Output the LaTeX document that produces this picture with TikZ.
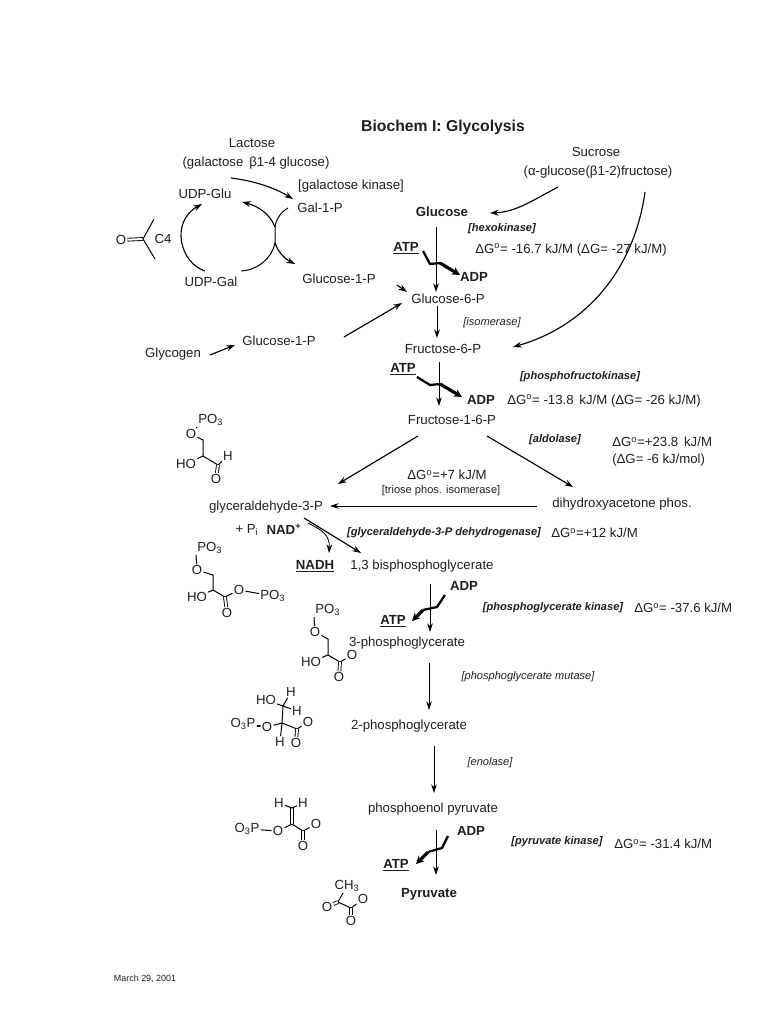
\documentclass[tikz,border=0pt]{standalone}
\usepackage{fontspec}
\setmainfont{Liberation Sans}
\usetikzlibrary{arrows.meta}
\definecolor{ink}{gray}{0.12}
\tikzset{
 txt/.style={inner sep=0pt,text=ink,yshift=-0.75pt,font=\fontsize{9.9}{12}\selectfont},
 bt/.style={txt,font=\fontsize{9.9}{12}\selectfont\bfseries},
 ttl/.style={txt,font=\fontsize{11.8}{14}\selectfont\bfseries},
 eb/.style={txt,font=\fontsize{8.3}{10}\selectfont\bfseries\itshape},
 ei/.style={txt,font=\fontsize{8.3}{10}\selectfont\itshape},
 sm/.style={txt,font=\fontsize{8.3}{10}\selectfont},
 dt/.style={txt,font=\fontsize{6.7}{8}\selectfont},
 atm/.style={inner sep=0.8pt,text=ink,font=\fontsize{9.9}{12}\selectfont},
 arr/.style={draw=black,line width=0.6pt,-{Stealth[length=6.5pt,width=4.2pt]}},
 harr/.style={draw=black,line width=0.85pt,-{Stealth[length=6.5pt,width=4.5pt]}},
 thick1/.style={draw=black,line width=1.7pt,line join=round},
 thick2/.style={draw=black,line width=2.4pt,-{Stealth[length=6pt,width=6pt]}},
 bond/.style={draw=black,line width=0.75pt},
 dbond/.style={draw=black,line width=0.65pt,double,double distance=1.5pt},
}
\begin{document}
\begin{tikzpicture}[x=0.75pt,y=-0.75pt]
\useasboundingbox (0,0) rectangle (768,1024);
% texts
\node[ttl] (title) at (443,126) {Biochem I: Glycolysis};
\node[txt] (lactose) at (252,142) {Lactose};
\node[txt] (galglu) at (256,162) {(galactose \,β1-4 glucose)};
\node[txt] (galk) at (351,185) {[galactose kinase]};
\node[txt] (udpglu) at (205,193) {UDP-Glu};
\node[txt] (gal1p) at (320,207) {Gal-1-P};
\node[txt] (c4) at (163,238) {C4};
\node[txt] (udpgal) at (211,281) {UDP-Gal};
\node[txt] (g1pa) at (339,278) {Glucose-1-P};
\node[txt] (g1pb) at (279,340) {Glucose-1-P};
\node[txt] (glycogen) at (173,353) {Glycogen};
\node[txt] (sucrose) at (596,151) {Sucrose};
\node[txt] (sucdef) at (598,171) {(α-glucose(β1-2)fructose)};
\node[bt] (glucose) at (442,211) {Glucose};
\node[eb] (hexo) at (502,228) {[hexokinase]};
\node[txt,anchor=west] (dg1) at (475,249) {ΔG\textsuperscript{o}= -16.7 kJ/M (ΔG= -27 kJ/M)};
\node[bt] (atp1) at (406,247) {\underline{ATP}};
\node[bt] (adp1) at (474,276) {ADP};
\node[txt] (g6p) at (448,298) {Glucose-6-P};
\node[ei] (isom) at (492,322) {[isomerase]};
\node[txt] (f6p) at (443,348) {Fructose-6-P};
\node[bt] (atp2) at (403,368) {\underline{ATP}};
\node[eb] (pfk) at (580,376) {[phosphofructokinase]};
\node[bt] (adp2) at (481,399) {ADP};
\node[txt,anchor=west] (dg2) at (507,400) {ΔG\textsuperscript{o}= -13.8 \,kJ/M (ΔG= -26 kJ/M)};
\node[txt] (f16p) at (452,419) {Fructose-1-6-P};
\node[eb] (aldo) at (555,439) {[aldolase]};
\node[txt,anchor=west] (dg3) at (612,441) {ΔG\textsuperscript{o}=+23.8 \,kJ/M};
\node[txt,anchor=west] (dg3b) at (612,459) {(ΔG= -6 kJ/mol)};
\node[txt] (dg4) at (447,474) {ΔG\textsuperscript{o}=+7 kJ/M};
\node[sm] (tpi) at (441,490) {[triose phos. isomerase]};
\node[txt] (g3p) at (266,506) {glyceraldehyde-3-P};
\node[txt] (dhap) at (622,503) {dihydroxyacetone phos.};
\node[txt] (pi) at (247,529) {+ P\textsubscript{i}};
\node[bt] (nad) at (284,528) {NAD\textsuperscript{+}};
\node[eb] (gapdh) at (444,532) {[glyceraldehyde-3-P dehydrogenase]};
\node[txt,anchor=west] (dg5) at (551,532) {ΔG\textsuperscript{o}=+12 kJ/M};
\node[bt] (nadh) at (315,565) {\underline{NADH}};
\node[txt] (bpg) at (422,565) {1,3 bisphosphoglycerate};
\node[bt] (adp3) at (464,585) {ADP};
\node[eb] (pgk) at (553,607) {[phosphoglycerate kinase]};
\node[txt,anchor=west] (dg6) at (634,607) {ΔG\textsuperscript{o}= -37.6 kJ/M};
\node[bt] (atp3) at (393,620) {\underline{ATP}};
\node[txt] (pg3) at (407,642) {3-phosphoglycerate};
\node[ei] (mutase) at (528,676) {[phosphoglycerate mutase]};
\node[txt] (pg2) at (409,725) {2-phosphoglycerate};
\node[ei] (enolase) at (490,762) {[enolase]};
\node[txt] (pep) at (433,808) {phosphoenol pyruvate};
\node[bt] (adp4) at (471,830) {ADP};
\node[eb] (pk) at (557,841) {[pyruvate kinase]};
\node[txt,anchor=west] (dg7) at (614,843) {ΔG\textsuperscript{o}= -31.4 kJ/M};
\node[bt] (atp4) at (396,864) {\underline{ATP}};
\node[bt] (pyr) at (429,893) {Pyruvate};
\node[dt] (date) at (145,978) {March 29, 2001};
% free ends of connectors
\coordinate (a1) at (231,178); \coordinate (a2) at (293,199);
\coordinate (b1) at (288,208); \coordinate (b2) at (275,227); \coordinate (b3) at (275,243); \coordinate (b4) at (295,264);
\coordinate (b5) at (242,202); \coordinate (b6) at (241,271);
\coordinate (c1) at (205,271); \coordinate (c2) at (202,204);
\coordinate (d1) at (210,355); \coordinate (d2) at (235,345);
\coordinate (e1) at (344,337); \coordinate (e2) at (402,303);
\coordinate (e3) at (397,285); \coordinate (e4) at (407,292);
\coordinate (s1) at (558,187); \coordinate (s2) at (490,213);
\coordinate (s3) at (645,192); \coordinate (s4) at (513,347);
% connectors
\draw[harr] (a1) .. controls (255,181) and (275,188) .. (a2);
\draw[harr] (b2) .. controls (270,214) and (258,206) .. (b5);
\draw[bond] (b1) .. controls (281,212) and (276,219) .. (b2) -- (b3);
\draw[harr] (b3) .. controls (278,252) and (285,259) .. (b4);
\draw[bond] (b6) .. controls (258,270) and (272,258) .. (b3);
\draw[harr] (c1) .. controls (180,263) and (170,222) .. (c2);
\draw[harr] (d1) -- (d2);
\draw[harr] (e1) -- (e2);
\draw[harr] (e3) -- (e4);
\draw[harr] (s1) .. controls (530,202) and (515,212) .. (s2);
\draw[harr] (s3) .. controls (635,265) and (590,325) .. (s4);
% main pathway
\coordinate (m1a) at (436,227); \coordinate (m1b) at (436,292);
\coordinate (m2a) at (437,306); \coordinate (m2b) at (437,338);
\coordinate (m3a) at (439,362); \coordinate (m3b) at (439,406);
\coordinate (m4a) at (418,436); \coordinate (m4b) at (338,484);
\coordinate (m5a) at (487,436); \coordinate (m5b) at (573,487);
\coordinate (m6a) at (537,506); \coordinate (m6b) at (330,506);
\coordinate (m7a) at (304,518); \coordinate (m7b) at (361,553);
\coordinate (m8a) at (308,523); \coordinate (m8b) at (329,553);
\coordinate (m9a) at (430,584); \coordinate (m9b) at (430,632);
\coordinate (m10a) at (429,663); \coordinate (m10b) at (429,710);
\coordinate (m11a) at (434,746); \coordinate (m11b) at (434,793);
\coordinate (m12a) at (436,830); \coordinate (m12b) at (436,875);
\draw[arr] (m1a) -- (m1b);
\draw[arr] (m2a) -- (m2b);
\draw[arr] (m3a) -- (m3b);
\draw[harr] (m4a) -- (m4b);
\draw[harr] (m5a) -- (m5b);
\draw[arr] (m6a) -- (m6b);
\draw[harr] (m7a) -- (m7b);
\draw[arr] (m8a) .. controls (322,530) and (330,535) .. (m8b);
\draw[arr] (m9a) -- (m9b);
\draw[arr] (m10a) -- (m10b);
\draw[arr] (m11a) -- (m11b);
\draw[arr] (m12a) -- (m12b);
% ATP / ADP coupling
\coordinate (t1a) at (423,251); \coordinate (t1b) at (430,264); \coordinate (t1c) at (440,263); \coordinate (t1d) at (460,275);
\draw[thick1] (t1a) -- (t1b) -- (t1c);
\draw[thick2] (t1c) -- (t1d);
\coordinate (t2a) at (417,377); \coordinate (t2b) at (430,385); \coordinate (t2c) at (440,384); \coordinate (t2d) at (462,397);
\draw[thick1] (t2a) -- (t2b) -- (t2c);
\draw[thick2] (t2c) -- (t2d);
\coordinate (t3a) at (445,595); \coordinate (t3b) at (437,607); \coordinate (t3c) at (423,610); \coordinate (t3d) at (412,621);
\draw[thick1] (t3a) -- (t3b) -- (t3c);
\draw[thick2] (t3c) -- (t3d);
\coordinate (t4a) at (448,836); \coordinate (t4b) at (442,848); \coordinate (t4c) at (428,852); \coordinate (t4d) at (416,864);
\draw[thick1] (t4a) -- (t4b) -- (t4c);
\draw[thick2] (t4c) -- (t4d);
% C4 carbonyl
\node[atm] (co) at (121,240) {O};
\coordinate (cc) at (143,239); \coordinate (cu) at (154,219); \coordinate (cd) at (155,259);
\draw[dbond] (co) -- (cc);
\draw[bond] (cu) -- (cc) -- (cd);
% molecule 1: glyceraldehyde-3-P
\node[atm,anchor=west] (a-p) at (197,420) {PO\textsubscript{3}};
\node[atm] (a-o) at (191,434) {O};
\node[atm] (a-ho) at (186,464) {HO};
\node[atm] (a-h) at (228,456) {H};
\node[atm] (a-od) at (216,479) {O};
\coordinate (a-c1) at (203,440); \coordinate (a-c2) at (203,456); \coordinate (a-c3) at (218,465);
\draw[bond] (a-p.south west) -- (a-o);
\draw[bond] (a-o) -- (a-c1) -- (a-c2) -- (a-ho);
\draw[bond] (a-c2) -- (a-c3) -- (a-h);
\draw[dbond] (a-c3) -- (a-od);
% molecule 2: 1,3 bisphosphoglycerate
\node[atm,anchor=west] (b-p) at (196,548) {PO\textsubscript{3}};
\node[atm] (b-o) at (197,570) {O};
\node[atm] (b-ho) at (197,597) {HO};
\node[atm] (b-oe) at (239,590) {O};
\node[atm,anchor=west] (b-p2) at (259,596) {PO\textsubscript{3}};
\node[atm] (b-od) at (227,613) {O};
\coordinate (b-c1) at (213,575); \coordinate (b-c2) at (213,590); \coordinate (b-c3) at (225,597);
\draw[bond] (b-p.south west) -- (b-o);
\draw[bond] (b-o) -- (b-c1) -- (b-c2) -- (b-ho);
\draw[bond] (b-c2) -- (b-c3) -- (b-oe) -- (b-p2);
\draw[dbond] (b-c3) -- (b-od);
% molecule 3: 3-phosphoglycerate
\node[atm,anchor=west] (c-p) at (314,610) {PO\textsubscript{3}};
\node[atm] (c-o) at (315,632) {O};
\node[atm] (c-ho) at (311,662) {HO};
\node[atm] (c-oo) at (352,655) {O};
\node[atm] (c-od) at (339,677) {O};
\coordinate (c-c1) at (328,639); \coordinate (c-c2) at (328,655); \coordinate (c-c3) at (340,662);
\draw[bond] (c-p.south west) -- (c-o);
\draw[bond] (c-o) -- (c-c1) -- (c-c2) -- (c-ho);
\draw[bond] (c-c2) -- (c-c3) -- (c-oo);
\draw[dbond] (c-c3) -- (c-od);
% molecule 4: 2-phosphoglycerate
\node[atm] (d-p) at (243,724) {O\textsubscript{3}P};
\node[atm] (d-o) at (267,727) {O};
\node[atm] (d-ho) at (266,700) {HO};
\node[atm] (d-h1) at (291,692) {H};
\node[atm] (d-h2) at (297,711) {H};
\node[atm] (d-h3) at (280,742) {H};
\node[atm] (d-oo) at (308,722) {O};
\node[atm] (d-od) at (296,743) {O};
\coordinate (d-c1) at (282,723); \coordinate (d-c2) at (283,706); \coordinate (d-c3) at (297,729);
\draw[line width=1.4pt] (d-p) -- (d-o);
\draw[bond] (d-o) -- (d-c1) -- (d-c2) -- (d-ho);
\draw[bond] (d-h1) -- (d-c2) -- (d-h2);
\draw[bond] (d-c1) -- (d-h3);
\draw[bond] (d-c1) -- (d-c3) -- (d-oo);
\draw[dbond] (d-c3) -- (d-od);
% molecule 5: phosphoenol pyruvate
\node[atm] (e-p) at (247,829) {O\textsubscript{3}P};
\node[atm] (e-o) at (278,831) {O};
\node[atm] (e-h1) at (279,803) {H};
\node[atm] (e-h2) at (303,803) {H};
\node[atm] (e-oo) at (316,824) {O};
\node[atm] (e-od) at (303,846) {O};
\coordinate (e-c1) at (292,824); \coordinate (e-c2) at (292,808); \coordinate (e-c3) at (303,831);
\draw[bond] (e-p) -- (e-o) -- (e-c1);
\draw[dbond] (e-c1) -- (e-c2);
\draw[bond] (e-h1) -- (e-c2) -- (e-h2);
\draw[bond] (e-c1) -- (e-c3) -- (e-oo);
\draw[dbond] (e-c3) -- (e-od);
% molecule 6: pyruvate
\node[atm] (f-ch) at (347,886) {CH\textsubscript{3}};
\node[atm] (f-o1) at (327,907) {O};
\node[atm] (f-oo) at (363,899) {O};
\node[atm] (f-od) at (351,921) {O};
\coordinate (f-c1) at (338,902); \coordinate (f-c2) at (351,908);
\draw[bond] (f-ch) -- (f-c1) -- (f-c2) -- (f-oo);
\draw[dbond] (f-c1) -- (f-o1);
\draw[dbond] (f-c2) -- (f-od);
\end{tikzpicture}
\end{document}
